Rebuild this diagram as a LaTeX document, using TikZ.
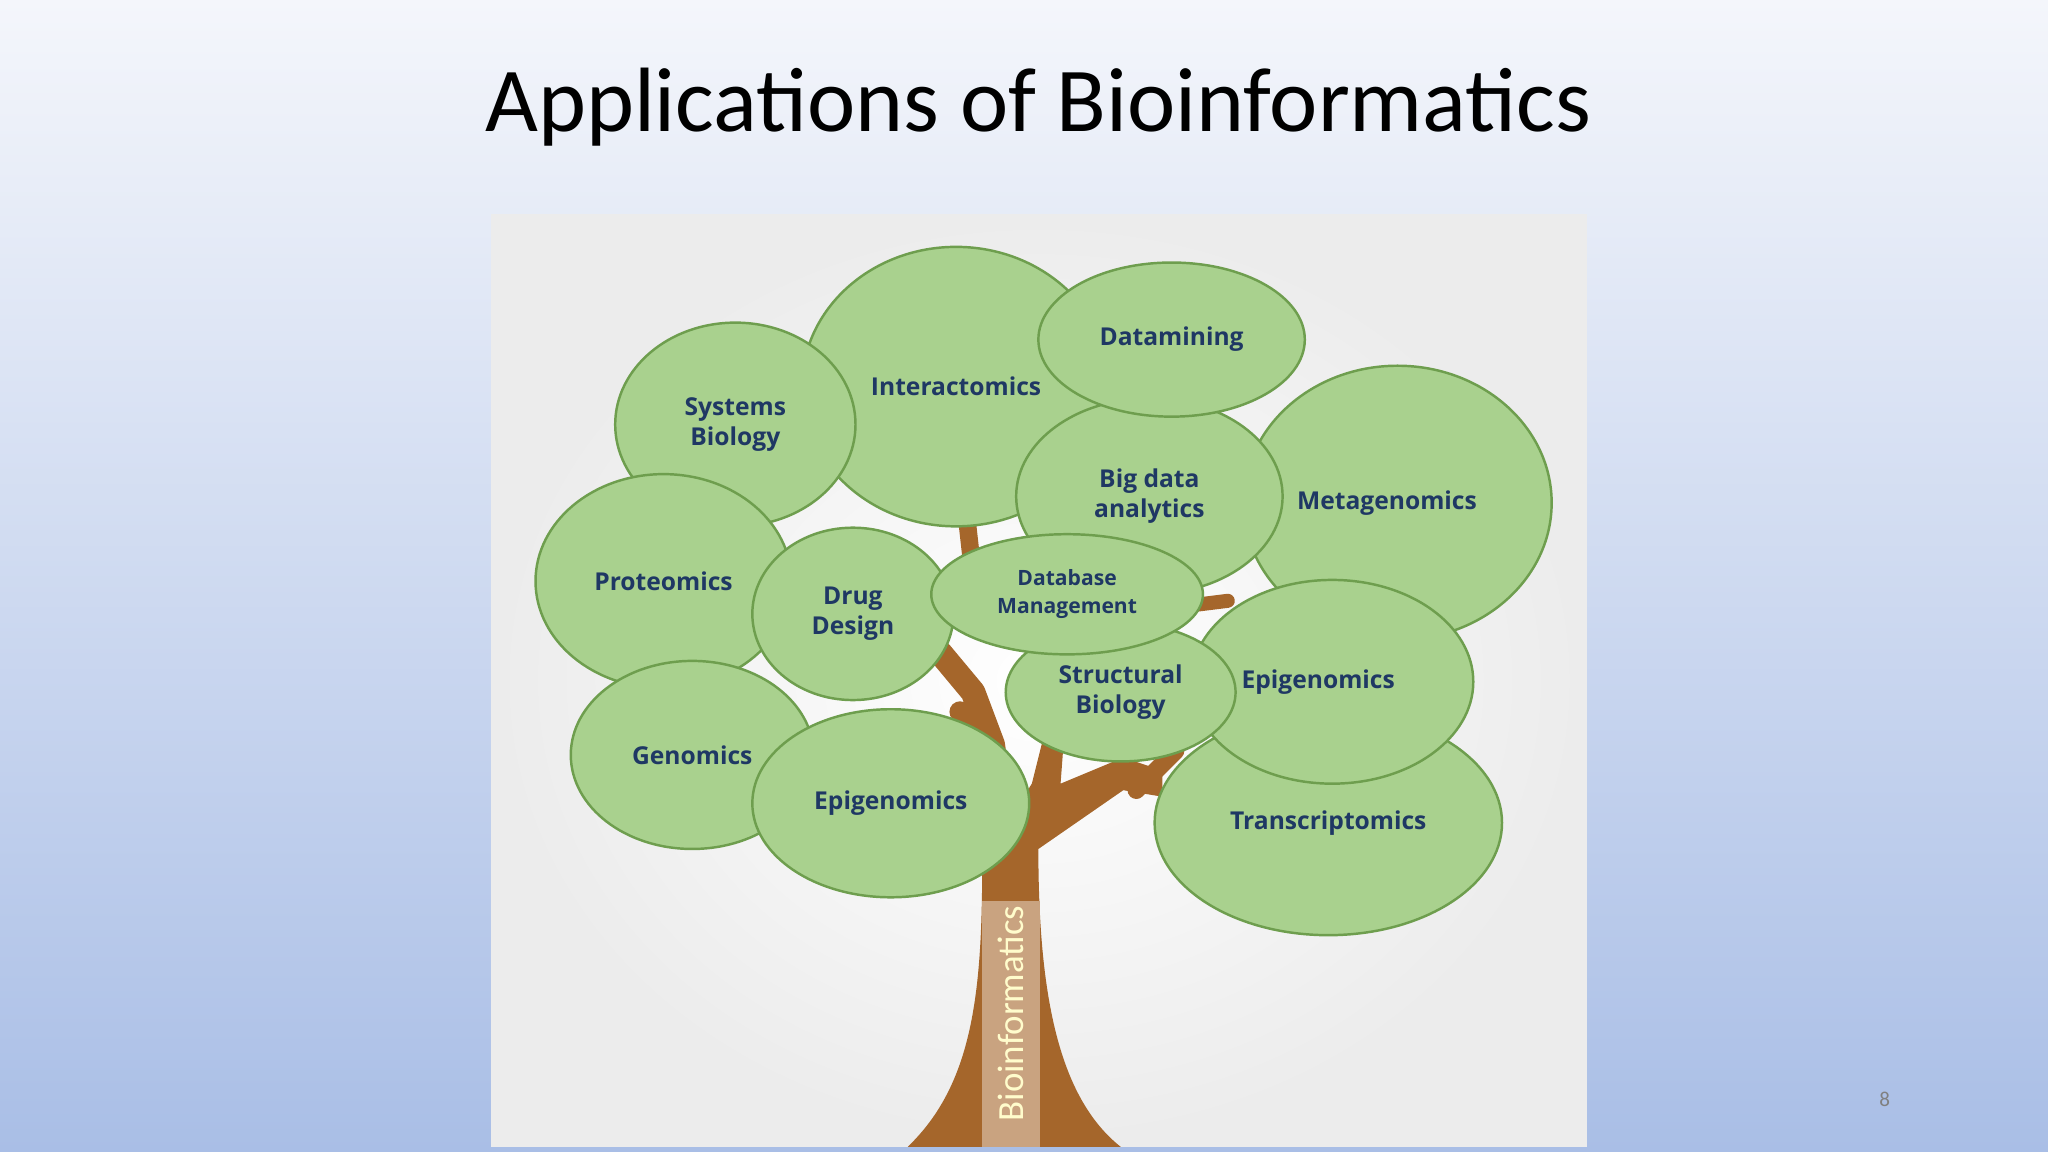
\documentclass[tikz,border=0pt]{standalone}
\usepackage{fontspec}
\setmainfont{Carlito}
\newfontfamily\lbl{Open Sans}
\definecolor{leaf}{HTML}{A9D18E}
\definecolor{leafline}{HTML}{6E9E4E}
\definecolor{navy}{HTML}{1F3864}
\definecolor{bark}{HTML}{A5662B}
\definecolor{skytop}{HTML}{F4F6FB}
\definecolor{skybot}{HTML}{A9BEE6}
\tikzset{
  leafshape/.style={fill=leaf, draw=leafline, line width=0.7pt},
  leaftext/.style={inner sep=0pt, font=\lbl\bfseries\fontsize{7}{8.6}\selectfont, text=navy, align=center},
  branch/.style={draw=bark, line cap=round, line join=round}
}
\newcommand{\leafE}[6]{%
  \filldraw[leafshape] (#2,#3) ellipse [x radius=#4*0.3716pt, y radius=#5*0.3716pt];
  \node[leaftext] (#1) at (#2,#3) {#6};}
\begin{document}
\begin{tikzpicture}[x=0.013061cm, y=-0.013061cm]
\useasboundingbox (0,0) rectangle (1568,882);
\shade[top color=skytop, bottom color=skybot] (0,0) rectangle (1568,882);
\node[font=\fontsize{26}{30}\selectfont] (title) at (795,82) {Applications of Bioinformatics};
\node[font=\fontsize{6}{7}\selectfont, text=gray] (pg) at (1443,842) {8};
% photo
\shade[inner color=white, outer color=gray!15] (376,164) rectangle (1215,878);
% trunk
\fill[bark] (695,878) .. controls (745,830) and (752,760) .. (752,660)
  -- (790,600) -- (800,560) -- (815,560) -- (812,600) -- (860,580) -- (890,590) -- (890,610) -- (860,605)
  -- (795,650) .. controls (795,760) and (810,840) .. (858,878) -- cycle;
\fill[bark!60!white] (752,690) rectangle (796,878);
\node[rotate=90, font=\fontsize{10.5}{12}\selectfont, text=yellow!20!white] (trunk) at (774,776) {Bioinformatics};
\draw[branch, line width=7pt] (770,640) -- (760,570) -- (745,530) -- (720,500);
\draw[branch, line width=6pt] (760,570) -- (735,545);
\draw[branch, line width=5pt] (745,440) -- (740,395);
\draw[branch, line width=5pt] (870,605) -- (900,575);
\draw[branch, line width=4pt] (900,465) -- (940,460);
% leaves
\leafE{inter}{732}{296}{118}{107}{}
\leafE{sys}{563}{325}{92}{78}{Systems\\Biology}
\node[leaftext] (interT) at (732,296) {Interactomics};
\leafE{meta}{1070}{385}{118}{105}{\hspace{-6pt}Metagenomics}
\leafE{big}{880}{380}{102}{75}{Big data\\analytics}
\leafE{data}{897}{260}{102}{59}{Datamining}
\leafE{prot}{508}{445}{98}{82}{Proteomics}
\leafE{gen}{530}{578}{93}{72}{Genomics}
\leafE{drug}{653}{470}{77}{66}{Drug\\Design}
\leafE{trans}{1017}{630}{133}{86}{Transcriptomics}
\leafE{epiR}{1020}{522}{108}{78}{\hspace{-8pt}Epigenomics}
\leafE{struct}{858}{530}{88}{53}{Structural\\Biology}
\filldraw[leafshape] (817,455) ellipse [x radius=104*0.3716pt, y radius=46*0.3716pt];
\node[leaftext, font=\lbl\bfseries\fontsize{6}{8}\selectfont] (db) at (817,455) {Database\\Management};
\leafE{epiL}{682}{615}{106}{72}{Epigenomics}
\end{tikzpicture}
\end{document}
